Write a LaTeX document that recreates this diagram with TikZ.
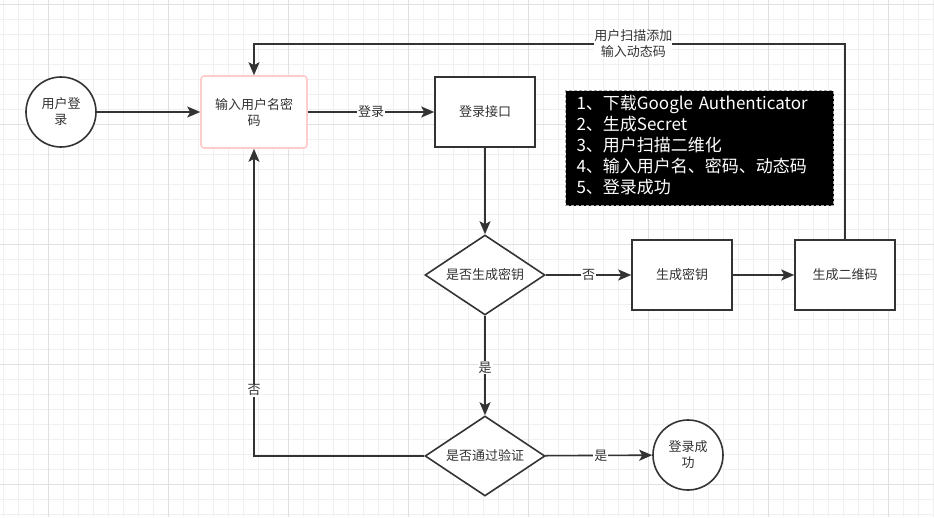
\documentclass[tikz,border=0pt]{standalone}
\usepackage{fontspec}
\setmainfont{Noto Sans CJK SC}
\usetikzlibrary{arrows.meta,shapes.geometric}
\definecolor{ln}{HTML}{333333}
\definecolor{gminor}{HTML}{F0F0F0}
\definecolor{gmajor}{HTML}{E0E0E0}
\definecolor{pinkb}{HTML}{FFCCCC}
\begin{document}
\begin{tikzpicture}[x=1pt,y=-1pt,
  minorg/.style={draw=gminor,line width=1pt},
  majorg/.style={draw=gmajor,line width=1pt},
  txt/.style={text=ln,font=\fontsize{13}{16}\selectfont,align=center},
  circ/.style={txt,circle,draw=ln,line width=1.6pt,minimum size=70pt,inner sep=0pt,fill=white},
  box/.style={txt,rectangle,draw=ln,line width=1.6pt,minimum width=100pt,minimum height=70pt,inner sep=0pt,fill=white},
  inbox/.style={txt,rectangle,rounded corners=3pt,draw=pinkb,line width=1.6pt,minimum width=106pt,minimum height=72pt,inner sep=0pt,fill=white},
  dia/.style={txt,diamond,shape aspect=1.5,draw=ln,line width=1.6pt,minimum width=120pt,minimum height=80pt,inner sep=0pt,fill=white},
  arr/.style={draw=ln,line width=1.6pt,-{Stealth[length=13pt,width=11pt,inset=3pt]}},
  lbl/.style={txt,fill=white,inner sep=1pt},
  note/.style={rectangle,fill=black,draw=gray!70,densely dashed,line width=1pt,text=white,
    font=\fontsize{17}{21}\selectfont,align=left,text width=246pt,inner xsep=11pt,inner ysep=0pt,
    minimum height=115pt}
]
\useasboundingbox (0,0) rectangle (934,517);
\fill[white] (0,0) rectangle (934,517);
\foreach \x in {3,18,...,933} \draw[minorg] (\x,0) -- (\x,517);
\foreach \y in {4,19,...,516} \draw[minorg] (0,\y) -- (934,\y);
\foreach \x in {48,168,...,933} \draw[majorg] (\x,0) -- (\x,517);
\foreach \y in {4,124,...,516} \draw[majorg] (0,\y) -- (934,\y);

\node[circ] (start) at (61,112) {用户登\\录};
\node[inbox] (input) at (254,112) {输入用户名密\\码};
\node[box] (api) at (485,112) {登录接口};
\node[dia] (d1) at (485,275) {是否生成密钥};
\node[box] (key) at (682,275) {生成密钥};
\node[box] (qr) at (845,275) {生成二维码};
\node[dia] (d2) at (485,456) {是否通过验证};
\node[circ] (ok) at (688,455) {登录成\\功};
\node[note,anchor=north west] (notes) at (565,90) {1、下载Google Authenticator\\2、生成Secret\\3、用户扫描二维化\\4、输入用户名、密码、动态码\\5、登录成功\vspace{5pt}};

\coordinate (top) at (845,44);
\draw[arr] (start) -- (input);
\draw[arr] (input) -- node[lbl]{登录} (api);
\draw[arr] (api) -- (d1);
\draw[arr] (d1) -- node[lbl]{否} (key);
\draw[arr] (key) -- (qr);
\draw[arr] (d1) -- node[lbl,pos=0.52]{是} (d2);
\draw[arr] (d2) -- node[lbl,pos=0.52]{是} (ok);
\draw[arr] (qr.north) -- (top) -| node[lbl,pos=0.179,inner sep=0pt]{用户扫描添加\\输入动态码} (input.north);
\draw[arr] (d2.west) -| node[lbl,pos=0.607]{否} (input.south);
\end{tikzpicture}
\end{document}
